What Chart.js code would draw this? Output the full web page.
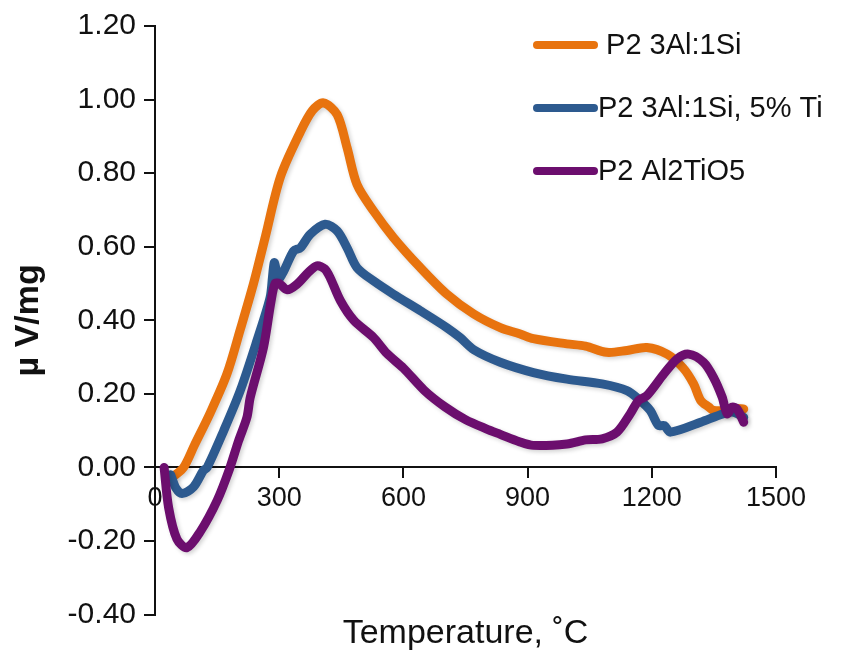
<!DOCTYPE html>
<html>
<head>
<meta charset="utf-8">
<title>DTA curves</title>
<script src="https://cdn.jsdelivr.net/npm/chart.js@4.4.1/dist/chart.umd.min.js"></script>
<style>
  html, body { margin: 0; padding: 0; background: #fff; }
  #wrap { width: 841px; height: 657px; }
</style>
</head>
<body>
<div id="wrap"><canvas id="dtaChart" width="841" height="657"></canvas></div>
<script>
// Axis ticks
const xTicks = [0, 300, 600, 900, 1200, 1500];
const yTicks = [-0.4, -0.2, 0, 0.2, 0.4, 0.6, 0.8, 1.0, 1.2];

// Series labels
const labels = [' P2 3Al:1Si', 'P2 3Al:1Si, 5% Ti', 'P2 Al2TiO5'];

// P2 3Al:1Si
const tempA = [43, 69, 95, 134, 174, 206, 238, 266, 303, 351, 380, 407, 440, 464, 488, 528, 576, 641, 705, 770, 834, 882, 914, 995, 1040, 1091, 1140, 1188, 1237, 1276, 1301, 1318, 1338, 1349, 1380, 1400, 1422];
const valA  = [-0.026, 0.0, 0.06, 0.15, 0.255, 0.375, 0.5, 0.625, 0.79, 0.912, 0.97, 0.991, 0.959, 0.869, 0.769, 0.697, 0.625, 0.543, 0.471, 0.417, 0.38, 0.363, 0.35, 0.336, 0.33, 0.313, 0.318, 0.326, 0.308, 0.27, 0.227, 0.182, 0.164, 0.155, 0.155, 0.16, 0.159];

// P2 3Al:1Si, 5% Ti
const tempB = [38, 50, 65, 93, 117, 126, 166, 206, 246, 278, 284, 288, 292, 295, 311, 335, 351, 375, 411, 440, 464, 488, 528, 576, 641, 705, 737, 770, 834, 914, 995, 1080, 1140, 1172, 1196, 1216, 1230, 1245, 1318, 1373, 1398, 1422];
const valB  = [-0.02, -0.055, -0.071, -0.053, -0.008, 0.0, 0.10, 0.209, 0.344, 0.462, 0.52, 0.557, 0.54, 0.507, 0.534, 0.589, 0.597, 0.634, 0.661, 0.643, 0.597, 0.543, 0.507, 0.471, 0.426, 0.38, 0.353, 0.32, 0.286, 0.258, 0.24, 0.227, 0.209, 0.182, 0.155, 0.114, 0.114, 0.096, 0.123, 0.146, 0.15, 0.136];

// P2 Al2TiO5
const tempC = [22, 33, 53, 77, 109, 150, 180, 202, 222, 230, 262, 280, 290, 300, 319, 343, 370, 391, 410, 423, 448, 480, 528, 560, 600, 650, 700, 750, 800, 834, 880, 914, 995, 1040, 1080, 1116, 1148, 1168, 1188, 1229, 1261, 1289, 1325, 1349, 1370, 1382, 1394, 1406, 1422];
const valC  = [0.0, -0.11, -0.195, -0.218, -0.175, -0.09, -0.004, 0.073, 0.136, 0.19, 0.326, 0.45, 0.50, 0.50, 0.483, 0.498, 0.53, 0.548, 0.54, 0.516, 0.453, 0.40, 0.353, 0.31, 0.27, 0.21, 0.165, 0.13, 0.105, 0.09, 0.07, 0.06, 0.064, 0.075, 0.078, 0.096, 0.146, 0.182, 0.195, 0.254, 0.295, 0.308, 0.286, 0.245, 0.191, 0.146, 0.164, 0.159, 0.123];

const colors = ['#E8730E', '#2D5A8F', '#6C0E6E'];

function toPoints(xs, ys) {
    return xs.map((x, i) => ({ x: x, y: ys[i] }));
}

// light drop shadow under the curves, like the original
const shadowPlugin = {
    id: 'shadow',
    beforeDatasetsDraw(chart) {
        const ctx = chart.ctx;
        ctx.save();
        ctx.shadowColor = 'rgba(0,0,0,0.18)';
        ctx.shadowBlur = 4;
        ctx.shadowOffsetX = 2;
        ctx.shadowOffsetY = 2;
    },
    afterDatasetsDraw(chart) {
        chart.ctx.restore();
    }
};

// legend drawn inside the plot, top right
const insideLegend = {
    id: 'insideLegend',
    afterDraw(chart) {
        const ctx = chart.ctx;
        const rows = [45, 108, 171];
        ctx.save();
        ctx.font = '29px "Liberation Sans", Arial, sans-serif';
        ctx.textBaseline = 'middle';
        ctx.lineCap = 'round';
        chart.data.datasets.forEach((ds, i) => {
            const y = rows[i];
            ctx.strokeStyle = ds.borderColor;
            ctx.lineWidth = 8;
            ctx.beginPath();
            ctx.moveTo(537, y);
            ctx.lineTo(594, y);
            ctx.stroke();
            ctx.fillStyle = '#111';
            ctx.fillText(ds.label, 598, y + 1);
        });
        ctx.restore();
    }
};

const ctx = document.getElementById('dtaChart').getContext('2d');
const dtaChart = new Chart(ctx, {
    type: 'line',
    data: {
        datasets: [
            { label: labels[0], data: toPoints(tempA, valA), borderColor: colors[0], order: 3 },
            { label: labels[1], data: toPoints(tempB, valB), borderColor: colors[1], order: 2 },
            { label: labels[2], data: toPoints(tempC, valC), borderColor: colors[2], order: 1 }
        ]
    },
    options: {
        responsive: false,
        animation: false,
        layout: { padding: { left: 0, right: 65, top: 24, bottom: 0 } },
        elements: {
            line: { borderWidth: 9, tension: 0.3, fill: false, borderCapStyle: 'round', borderJoinStyle: 'round' },
            point: { radius: 0, hoverRadius: 0 }
        },
        scales: {
            x: {
                type: 'linear',
                position: { y: 0 },
                min: 0,
                max: 1500,
                afterBuildTicks: (scale) => { scale.ticks = xTicks.map(v => ({ value: v })); },
                grid: { drawOnChartArea: false, color: '#111', lineWidth: 2, tickLength: 10 },
                border: { color: '#111', width: 2 },
                ticks: {
                    color: '#111',
                    padding: 5,
                    maxRotation: 0,
                    font: { family: '"Liberation Sans", Arial, sans-serif', size: 27 },
                    callback: (v) => String(v)
                }
            },
            y: {
                type: 'linear',
                position: 'left',
                min: -0.4,
                max: 1.2,
                afterBuildTicks: (scale) => { scale.ticks = yTicks.map(v => ({ value: v })); },
                afterFit: (scale) => { scale.width = 155; },
                grid: { drawOnChartArea: false, color: '#111', lineWidth: 2, tickLength: 11 },
                border: { color: '#111', width: 2 },
                ticks: {
                    color: '#111',
                    padding: 8,
                    font: { family: '"Liberation Sans", Arial, sans-serif', size: 30 },
                    callback: (v) => Number(v).toFixed(2)
                },
                title: {
                    display: true,
                    text: 'µ V/mg',
                    color: '#111',
                    padding: { top: 8, bottom: 0 },
                    font: { family: '"Liberation Sans", Arial, sans-serif', size: 34, weight: 'bold' }
                }
            }
        },
        plugins: {
            legend: { display: false },
            tooltip: { enabled: false },
            title: {
                display: true,
                fullSize: false,
                position: 'bottom',
                text: 'Temperature, ˚C',
                color: '#111',
                padding: { top: 0, bottom: 5 },
                font: { family: '"Liberation Sans", Arial, sans-serif', size: 34, weight: 'normal', lineHeight: 1.1 }
            }
        }
    },
    plugins: [shadowPlugin, insideLegend]
});
</script>
</body>
</html>
